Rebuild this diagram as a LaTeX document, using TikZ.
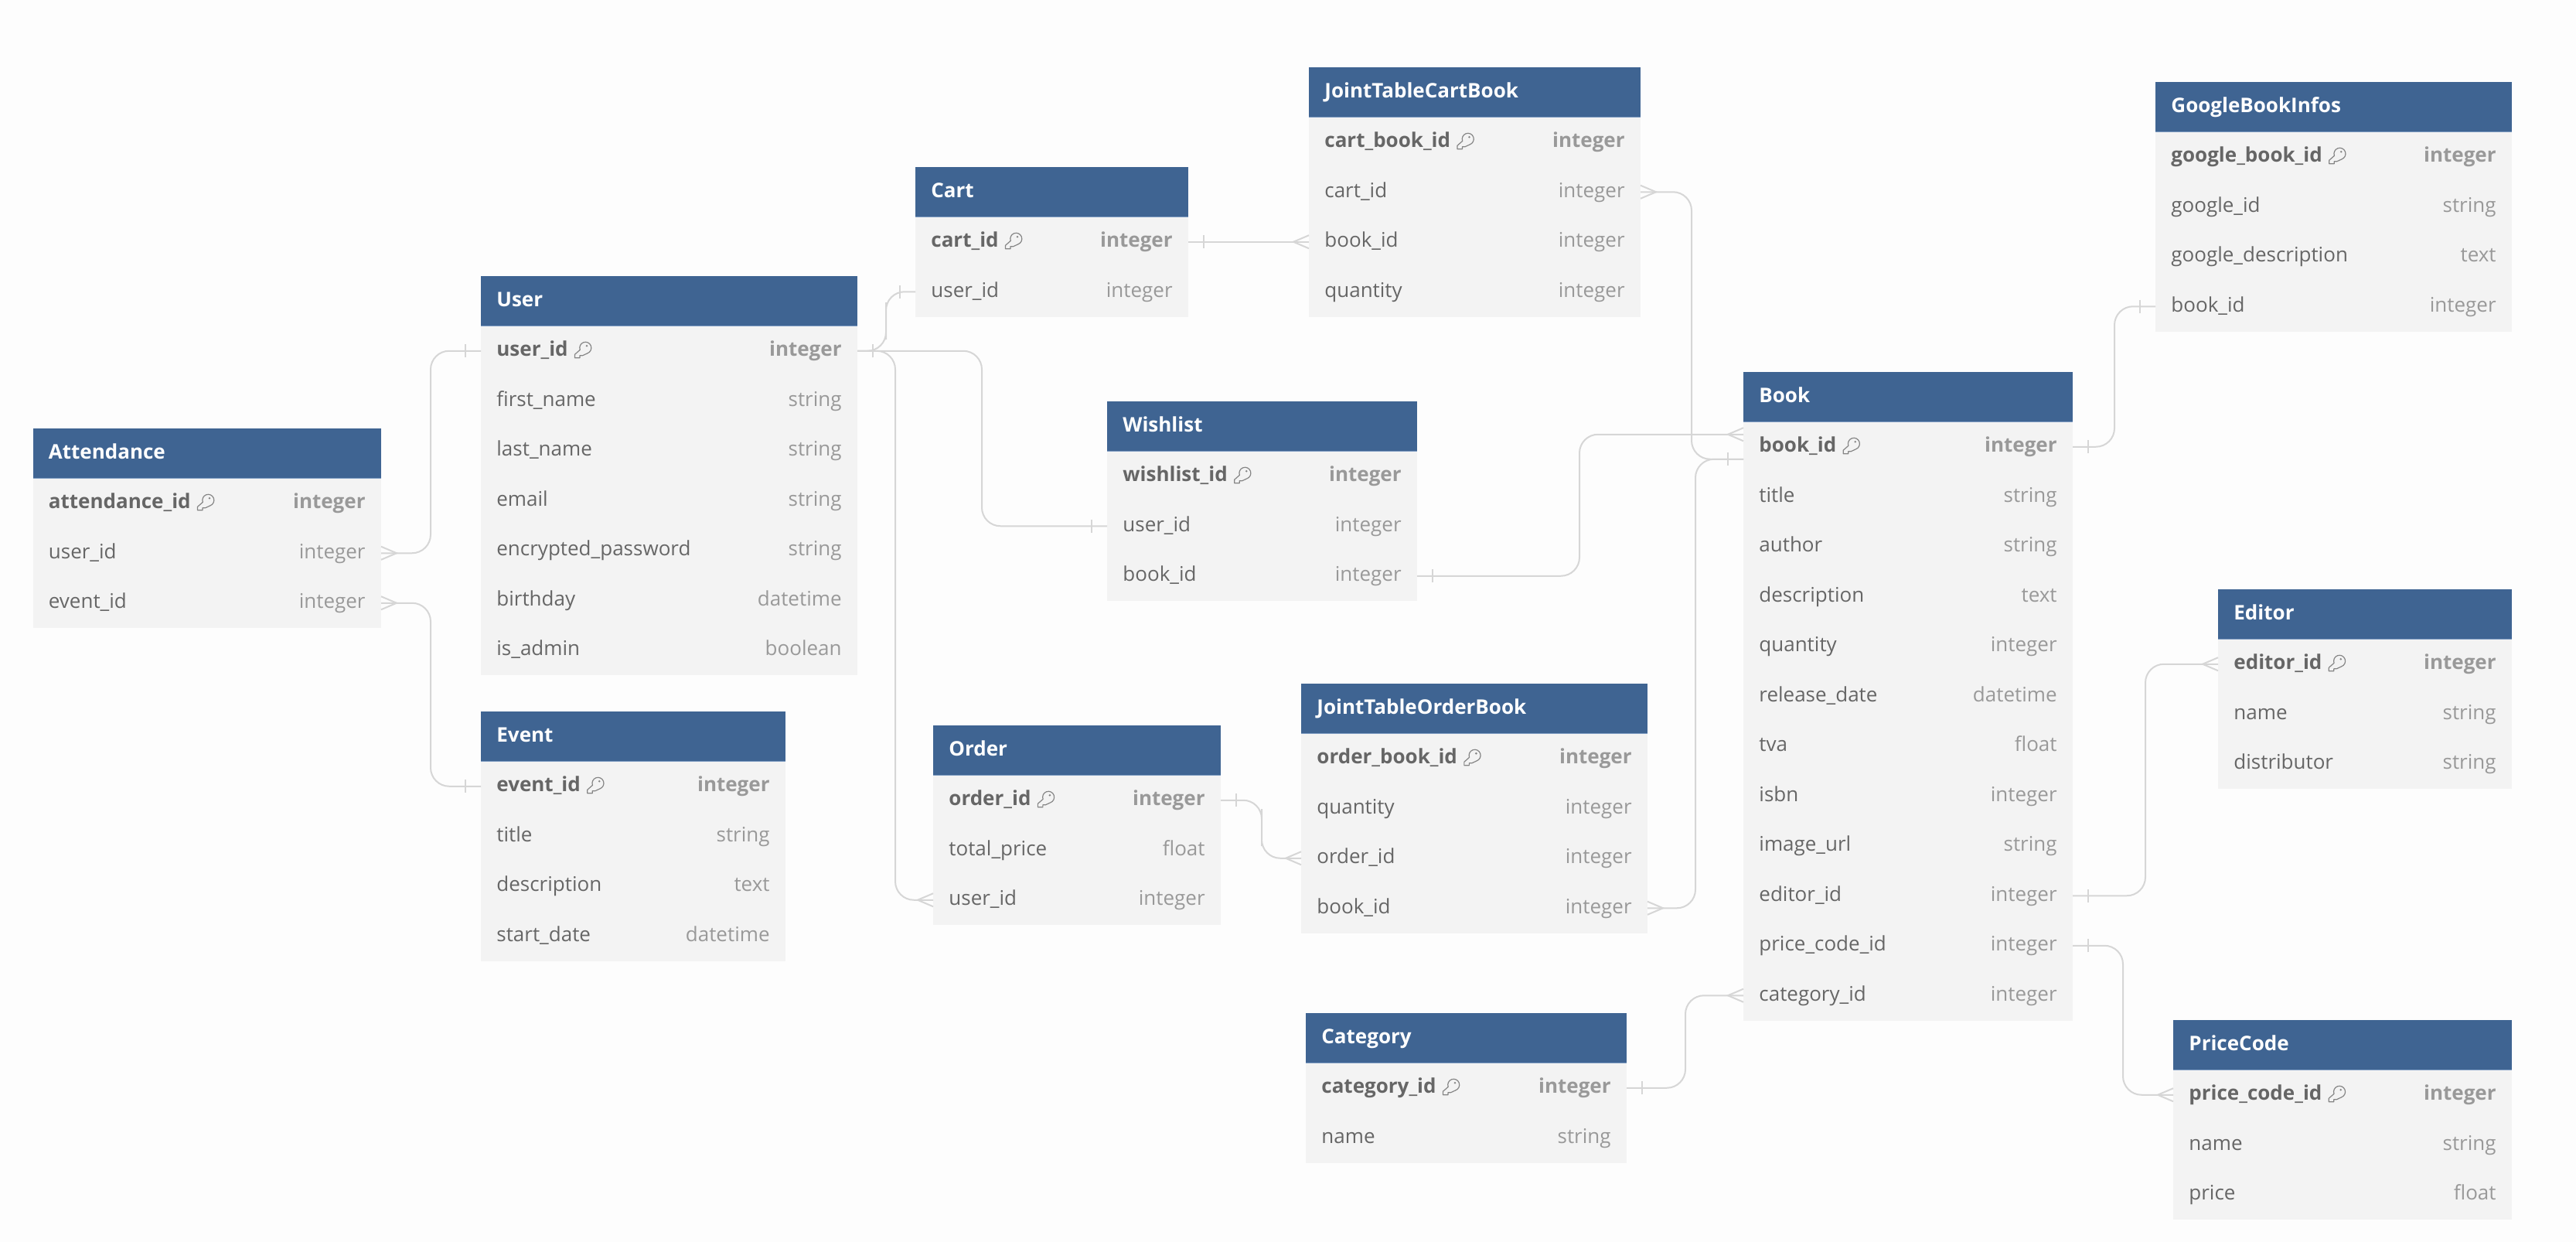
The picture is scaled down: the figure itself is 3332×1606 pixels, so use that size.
\documentclass[tikz,border=0pt]{standalone}
\usepackage{fontspec}
\setmainfont{Open Sans}

\definecolor{pagecol}{HTML}{FDFDFD}
\definecolor{headcol}{HTML}{3F6492}
\definecolor{headline}{HTML}{7D9BC1}
\definecolor{rowcol}{HTML}{F3F3F3}
\definecolor{namecol}{HTML}{666666}
\definecolor{typecol}{HTML}{999999}
\definecolor{linkcol}{HTML}{D6D6D6}

\pgfdeclarearrow{
  name=Crow,
  setup code={\pgfarrowssettipend{0pt}\pgfarrowssetlineend{0pt}\pgfarrowssetvisualbackend{0pt}\pgfarrowssetbackend{-10pt}
    \pgfarrowshullpoint{0pt}{0pt}\pgfarrowsupperhullpoint{-10pt}{4.25pt}},
  drawing code={\pgfsetlinewidth{1pt}
    \pgfpathmoveto{\pgfpoint{0pt}{4.25pt}}\pgfpathlineto{\pgfpoint{-10pt}{0pt}}\pgfpathlineto{\pgfpoint{0pt}{-4.25pt}}
    \pgfusepathqstroke},
}
\pgfdeclarearrow{
  name=Tick,
  setup code={\pgfarrowssettipend{0pt}\pgfarrowssetlineend{0pt}\pgfarrowssetvisualbackend{0pt}\pgfarrowssetbackend{-10pt}
    \pgfarrowshullpoint{0pt}{0pt}\pgfarrowsupperhullpoint{-10pt}{4.25pt}},
  drawing code={\pgfsetlinewidth{1pt}
    \pgfpathmoveto{\pgfpoint{-10pt}{4.25pt}}\pgfpathlineto{\pgfpoint{-10pt}{-4.25pt}}
    \pgfusepathqstroke},
}

\tikzset{
  tablehead/.style={fill=headcol,anchor=north west,inner sep=0,outer sep=0,minimum height=32.25pt},
  rowbox/.style={fill=rowcol,anchor=north west,inner sep=0,outer sep=0,minimum height=32.25pt},
  titletext/.style={anchor=base west,inner sep=0,text=white,font=\fontsize{13pt}{15pt}\selectfont\bfseries},
  nametext/.style={anchor=base west,inner sep=0,text=namecol,font=\fontsize{13pt}{15pt}\selectfont},
  typetext/.style={anchor=base east,inner sep=0,text=typecol,font=\fontsize{13pt}{15pt}\selectfont},
  keyname/.style={nametext,font=\fontsize{13pt}{15pt}\selectfont\bfseries},
  keytype/.style={typetext,font=\fontsize{13pt}{15pt}\selectfont\bfseries},
  link/.style={draw=linkcol,line width=1pt,rounded corners=12pt},
  keyicon/.pic={
    \draw[namecol!80,line width=0.6pt,line join=round] (7.2,-8.4) arc[start angle=160,end angle=430,radius=7.5] -- (10.5,-1) -- (7,-1) -- (7,2) -- (0.5,2) -- (0.5,-2.5) -- cycle;
    \fill[namecol!80] (16,-13.5) circle[radius=1.4];
  },
}

\newcommand{\tabletop}[2]{
  \node[tablehead,minimum width=\tablew] (#1) at (0,0) {};
  \draw[headline,line width=0.7pt] (#1.south west) -- (#1.south east);
  \node[titletext] (#1_title) at ([xshift=10pt,yshift=-3.5pt]#1.west) {#2};
}
\newcommand{\tablekey}[4]{
  \node[rowbox,minimum width=\tablew] (#1_#2) at (0,{64.5*#2}) {};
  \node[keyname] (#1_#2_name) at ([xshift=10pt,yshift=-3.5pt]#1_#2.west) {#3};
  \node[keytype] (#1_#2_type) at ([xshift=-10pt,yshift=-3.5pt]#1_#2.east) {#4};
  \pic at ([xshift=4pt]#1_#2_name.base east) {keyicon};
}
\newcommand{\tablerow}[4]{
  \node[rowbox,minimum width=\tablew] (#1_#2) at (0,{64.5*#2}) {};
  \node[nametext] (#1_#2_name) at ([xshift=10pt,yshift=-3.5pt]#1_#2.west) {#3};
  \node[typetext] (#1_#2_type) at ([xshift=-10pt,yshift=-3.5pt]#1_#2.east) {#4};
}

\begin{document}
\begin{tikzpicture}[x=0.5pt,y=-0.5pt]

\fill[pagecol] (0,0) rectangle (3332,1606) ;

\begin{scope}[shift={(42.5,554)}]
\def\tablew{225.25pt}
\tabletop{attendance}{Attendance}
\tablekey{attendance}{1}{attendance\_id}{integer}
\tablerow{attendance}{2}{user\_id}{integer}
\tablerow{attendance}{3}{event\_id}{integer}
\end{scope}

\begin{scope}[shift={(622,357)}]
\def\tablew{243.5pt}
\tabletop{user}{User}
\tablekey{user}{1}{user\_id}{integer}
\tablerow{user}{2}{first\_name}{string}
\tablerow{user}{3}{last\_name}{string}
\tablerow{user}{4}{email}{string}
\tablerow{user}{5}{encrypted\_password}{string}
\tablerow{user}{6}{birthday}{datetime}
\tablerow{user}{7}{is\_admin}{boolean}
\end{scope}

\begin{scope}[shift={(622,920)}]
\def\tablew{197pt}
\tabletop{event}{Event}
\tablekey{event}{1}{event\_id}{integer}
\tablerow{event}{2}{title}{string}
\tablerow{event}{3}{description}{text}
\tablerow{event}{4}{start\_date}{datetime}
\end{scope}

\begin{scope}[shift={(1184,216)}]
\def\tablew{176.5pt}
\tabletop{cart}{Cart}
\tablekey{cart}{1}{cart\_id}{integer}
\tablerow{cart}{2}{user\_id}{integer}
\end{scope}

\begin{scope}[shift={(1693,87)}]
\def\tablew{214.5pt}
\tabletop{cartbook}{JointTableCartBook}
\tablekey{cartbook}{1}{cart\_book\_id}{integer}
\tablerow{cartbook}{2}{cart\_id}{integer}
\tablerow{cartbook}{3}{book\_id}{integer}
\tablerow{cartbook}{4}{quantity}{integer}
\end{scope}

\begin{scope}[shift={(1432,519)}]
\def\tablew{200.5pt}
\tabletop{wishlist}{Wishlist}
\tablekey{wishlist}{1}{wishlist\_id}{integer}
\tablerow{wishlist}{2}{user\_id}{integer}
\tablerow{wishlist}{3}{book\_id}{integer}
\end{scope}

\begin{scope}[shift={(1207,938)}]
\def\tablew{186pt}
\tabletop{order}{Order}
\tablekey{order}{1}{order\_id}{integer}
\tablerow{order}{2}{total\_price}{float}
\tablerow{order}{3}{user\_id}{integer}
\end{scope}

\begin{scope}[shift={(1683,884)}]
\def\tablew{224pt}
\tabletop{orderbook}{JointTableOrderBook}
\tablekey{orderbook}{1}{order\_book\_id}{integer}
\tablerow{orderbook}{2}{quantity}{integer}
\tablerow{orderbook}{3}{order\_id}{integer}
\tablerow{orderbook}{4}{book\_id}{integer}
\end{scope}

\begin{scope}[shift={(1689,1310)}]
\def\tablew{207.5pt}
\tabletop{category}{Category}
\tablekey{category}{1}{category\_id}{integer}
\tablerow{category}{2}{name}{string}
\end{scope}

\begin{scope}[shift={(2255,481)}]
\def\tablew{213pt}
\tabletop{book}{Book}
\tablekey{book}{1}{book\_id}{integer}
\tablerow{book}{2}{title}{string}
\tablerow{book}{3}{author}{string}
\tablerow{book}{4}{description}{text}
\tablerow{book}{5}{quantity}{integer}
\tablerow{book}{6}{release\_date}{datetime}
\tablerow{book}{7}{tva}{float}
\tablerow{book}{8}{isbn}{integer}
\tablerow{book}{9}{image\_url}{string}
\tablerow{book}{10}{editor\_id}{integer}
\tablerow{book}{11}{price\_code\_id}{integer}
\tablerow{book}{12}{category\_id}{integer}
\end{scope}

\begin{scope}[shift={(2788,106)}]
\def\tablew{230.5pt}
\tabletop{google}{GoogleBookInfos}
\tablekey{google}{1}{google\_book\_id}{integer}
\tablerow{google}{2}{google\_id}{string}
\tablerow{google}{3}{google\_description}{text}
\tablerow{google}{4}{book\_id}{integer}
\end{scope}

\begin{scope}[shift={(2869,762)}]
\def\tablew{190pt}
\tabletop{editor}{Editor}
\tablekey{editor}{1}{editor\_id}{integer}
\tablerow{editor}{2}{name}{string}
\tablerow{editor}{3}{distributor}{string}
\end{scope}

\begin{scope}[shift={(2811,1319)}]
\def\tablew{219pt}
\tabletop{pricecode}{PriceCode}
\tablekey{pricecode}{1}{price\_code\_id}{integer}
\tablerow{pricecode}{2}{name}{string}
\tablerow{pricecode}{3}{price}{float}
\end{scope}

\draw[link,Crow-Tick] (attendance_2.east) -| (557,600) |- (user_1.west) ;
\draw[link,Crow-Tick] (attendance_3.east) -| (557,850) |- (event_1.west) ;

\draw[link,Tick-Tick] (user_1.east) -| (1146,415) |- (cart_2.west) ;
\draw[link,Tick-Tick] (user_1.east) -| (1270,560) |- (wishlist_2.west) ;
\draw[link,Tick-Crow] (user_1.east) -| (1158,800) |- (order_3.west) ;

\draw[link,Tick-Crow] (cart_1.east) -- (cartbook_3.west) ;
\draw[link,Crow-Tick] (cartbook_2.east) -| (2188,420) |- ([yshift=-8pt]book_1.west) ;
\draw[link,Tick-Crow] (wishlist_3.east) -| (2043,650) |- ([yshift=8pt]book_1.west) ;
\draw[link,Crow-Tick] (orderbook_4.east) -| (2193,900) |- ([yshift=-8pt]book_1.west) ;
\draw[link,Tick-Crow] (order_1.east) -| (1632,1070) |- (orderbook_3.west) ;
\draw[link,Tick-Crow] (category_1.east) -| (2180,1350) |- (book_12.west) ;

\draw[link,Tick-Tick] (book_1.east) -| (2735,480) |- (google_4.west) ;
\draw[link,Tick-Crow] (book_10.east) -| (2775,1000) |- (editor_1.west) ;
\draw[link,Tick-Crow] (book_11.east) -| (2746,1320) |- (pricecode_1.west) ;

\end{tikzpicture}
\end{document}
